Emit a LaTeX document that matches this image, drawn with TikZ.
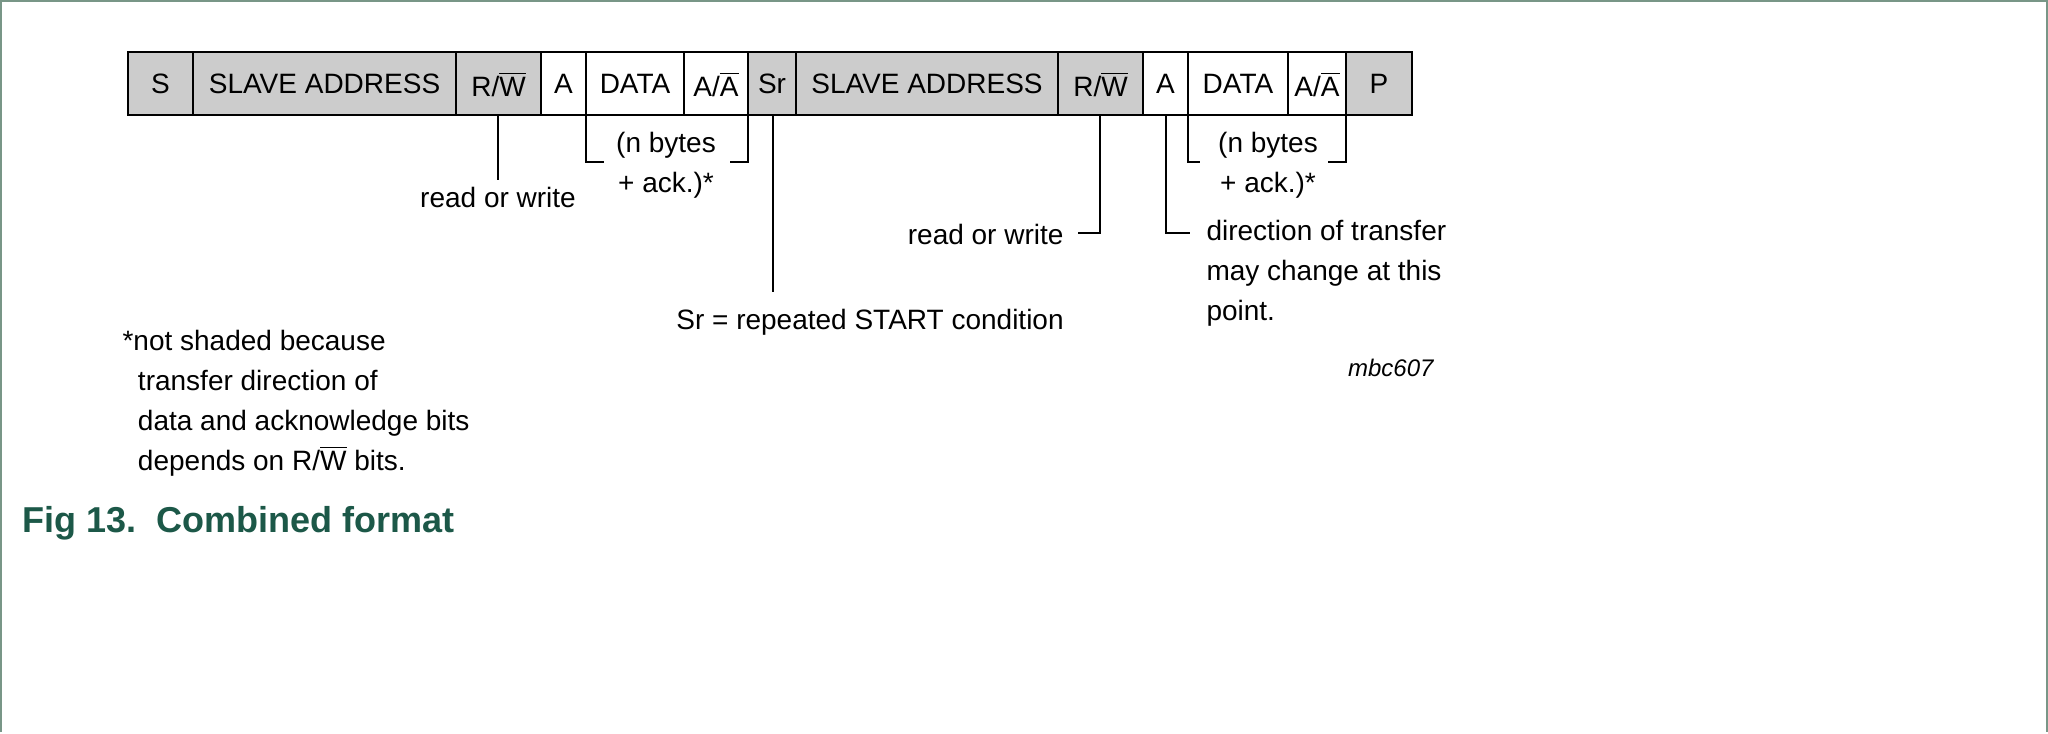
\documentclass[tikz,border=0pt]{standalone}
\usepackage{fontspec}
\setmainfont{Liberation Sans}
\definecolor{capgreen}{RGB}{28,88,72}
\definecolor{framec}{RGB}{120,150,135}
\begin{document}
\begin{tikzpicture}[x=0.375pt,y=-0.375pt,
  fld/.style={draw,line width=0.8pt,inner sep=0pt},
  sh/.style={fld,fill=gray!40},
  wh/.style={fld,fill=white},
  lbl/.style={inner sep=0pt,font=\fontsize{10.5}{12}\selectfont},
  ln/.style={line width=0.7pt}]
\fill[white] (0,0) rectangle (2048,732);
\draw[color=framec, line width=0.8pt] (1,732) -- (1,1) -- (2047,1) -- (2047,732);
\def\fb#1#2#3#4#5{\path[#3] (#1,52) rectangle (#2,115); \node[lbl] (#4) at ({(#1+#2)/2},84) {#5};}
\fb{128}{193}{sh}{s}{S}
\fb{193}{456}{sh}{sa1}{SLAVE ADDRESS}
\fb{456}{541}{sh}{rw1}{R/$\overline{\mbox{W}}$}
\fb{541}{586}{wh}{a1}{A}
\fb{586}{684}{wh}{d1}{DATA}
\fb{684}{748}{wh}{aa1}{A/$\overline{\mbox{A}}$}
\fb{748}{796}{sh}{sr}{Sr}
\fb{796}{1058}{sh}{sa2}{SLAVE ADDRESS}
\fb{1058}{1143}{sh}{rw2}{R/$\overline{\mbox{W}}$}
\fb{1143}{1188}{wh}{a2}{A}
\fb{1188}{1288}{wh}{d2}{DATA}
\fb{1288}{1346}{wh}{aa2}{A/$\overline{\mbox{A}}$}
\fb{1346}{1412}{sh}{p}{P}
% brackets
\draw[ln] (586,115) -- (586,162) -- (604,162);
\draw[ln] (748,115) -- (748,162) -- (730,162);
\node[lbl,align=center] (nb1) at (666,165) {(n bytes\\[3pt]+ ack.)*};
\draw[ln] (1188,115) -- (1188,162) -- (1200,162);
\draw[ln] (1346,115) -- (1346,162) -- (1328,162);
\node[lbl,align=center] (nb2) at (1268,165) {(n bytes\\[3pt]+ ack.)*};
% read or write 1
\node[lbl] (rw1t) at (498,197) {read or write};
\draw[ln] (498,115) -- (498,180);
% Sr
\node[lbl] (srt) at (870,322) {Sr = repeated START condition};
\draw[ln] (773,115) -- (773,292);
% read or write 2
\node[lbl,anchor=east] (rw2t) at (1064,234) {read or write};
\draw[ln] (1100,115) -- (1100,233) -- (1078,233);
% direction
\node[lbl,anchor=north west,align=left] (dir) at (1206,220) {direction of transfer\\[3pt]may change at this\\[3pt]point.};
\draw[ln] (1166,115) -- (1166,233) -- (1190,233);
% footnote
\node[lbl,anchor=north west,align=left] (fn) at (122,330) {*not shaded because\\[3pt]\hspace*{0.55em}transfer direction of\\[3pt]\hspace*{0.55em}data and acknowledge bits\\[3pt]\hspace*{0.55em}depends on R/$\overline{\mbox{W}}$ bits.};
\node[lbl,anchor=east,font=\fontsize{9}{11}\selectfont\itshape] (mbc) at (1434,368) {mbc607};
\node[inner sep=0pt,anchor=west,font=\fontsize{13.5}{16}\selectfont\bfseries,text=capgreen] (cap) at (22,523) {Fig 13.\ \ Combined format};
\end{tikzpicture}
\end{document}
